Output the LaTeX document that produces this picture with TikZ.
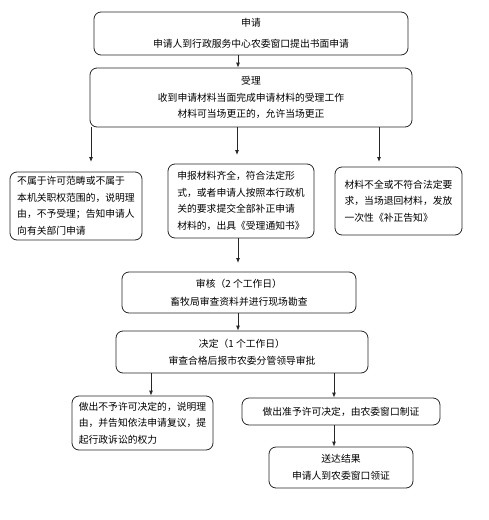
\documentclass[tikz,border=0pt]{standalone}
\usepackage{fontspec}
\setmainfont{Noto Sans CJK SC}
\usepackage{tikz}
\usetikzlibrary{arrows.meta,positioning}

\begin{document}
\begin{tikzpicture}[
    x=1pt, y=-1pt,
    >={Latex[length=5pt,width=4pt]},
    font=\fontsize{9.8}{16.5}\selectfont,
    box/.style={rectangle, draw=black!85, line width=0.8pt, rounded corners=7pt,
                align=center, inner sep=2pt},
    note/.style={box, align=left},
    arr/.style={->, line width=0.8pt, draw=black!85}
]
\useasboundingbox (0,0) rectangle (488,520);

% Top: application and acceptance
\node[box, minimum width=314pt, minimum height=43pt] (apply) at (251,33.5)
     {申请\\[4pt]申请人到行政服务中心农委窗口提出书面申请};
\node[box, minimum width=322pt, minimum height=59pt] (accept) at (251,97.5)
     {受理\\收到申请材料当面完成申请材料的受理工作\\材料可当场更正的，允许当场更正};

% Middle row: three outcomes of acceptance
\node[note, minimum width=132pt, minimum height=68pt] (reject) at (76,206)
     {不属于许可范畴或不属于\\本机关职权范围的，说明理\\由，不予受理；告知申请人\\向有关部门申请};
\node[note, minimum width=146pt, minimum height=74pt] (complete) at (241,201)
     {申报材料齐全，符合法定形\\式，或者申请人按照本行政机\\关的要求提交全部补正申请\\材料的，出具《受理通知书》};
\node[note, minimum width=127pt, minimum height=68pt] (amend) at (398.5,201)
     {材料不全或不符合法定要\\求，当场退回材料，发放\\一次性《补正告知》};

% Review and decision
\node[box, minimum width=234pt, minimum height=41pt] (check) at (239,292.5)
     {审核（2 个工作日）\\[1pt]畜牧局审查资料并进行现场勘查};
\node[box, minimum width=252pt, minimum height=42pt] (decide) at (242,352)
     {决定（1 个工作日）\\[1pt]审查合格后报市农委分管领导审批};

% Bottom: refusal / permit and delivery
\node[note, minimum width=141pt, minimum height=54pt] (deny) at (142.5,423)
     {做出不予许可决定的，说明理\\由，并告知依法申请复议，提\\起行政诉讼的权力};
\node[box, minimum width=198pt, minimum height=27pt] (permit) at (341,411.5)
     {做出准予许可决定，由农委窗口制证};
\node[box, minimum width=144pt, minimum height=41pt] (deliver) at (341,467.5)
     {送达结果\\申请人到农委窗口领证};

% Free arrow ends (stop short of the boxes below)
\coordinate (toreject)   at (91,162);
\coordinate (tocomplete) at (237,155);
\coordinate (toamend)    at (379,162);
\coordinate (tocheck)    at (238,263);

% Arrows
\draw[arr] ([xshift=-13pt]apply.south) -- ([xshift=-13pt]apply.south |- accept.north);
\draw[arr] (accept.south -| toreject)   -- (toreject);
\draw[arr] (accept.south -| tocomplete) -- (tocomplete);
\draw[arr] (accept.south -| toamend)    -- (toamend);
\draw[arr] (complete.south -| tocheck)  -- (tocheck);
\draw[arr] ([xshift=-1pt]check.south) -- ([xshift=-1pt]check.south |- decide.north);
\draw[arr] ([xshift=-91pt]decide.south) -- ([xshift=-91pt]decide.south |- deny.north);
\draw[arr] ([xshift=92pt]decide.south) -- ([xshift=92pt]decide.south |- permit.north);
\draw[arr] ([xshift=-7pt]permit.south) -- ([xshift=-7pt]permit.south |- deliver.north);
\end{tikzpicture}
\end{document}
